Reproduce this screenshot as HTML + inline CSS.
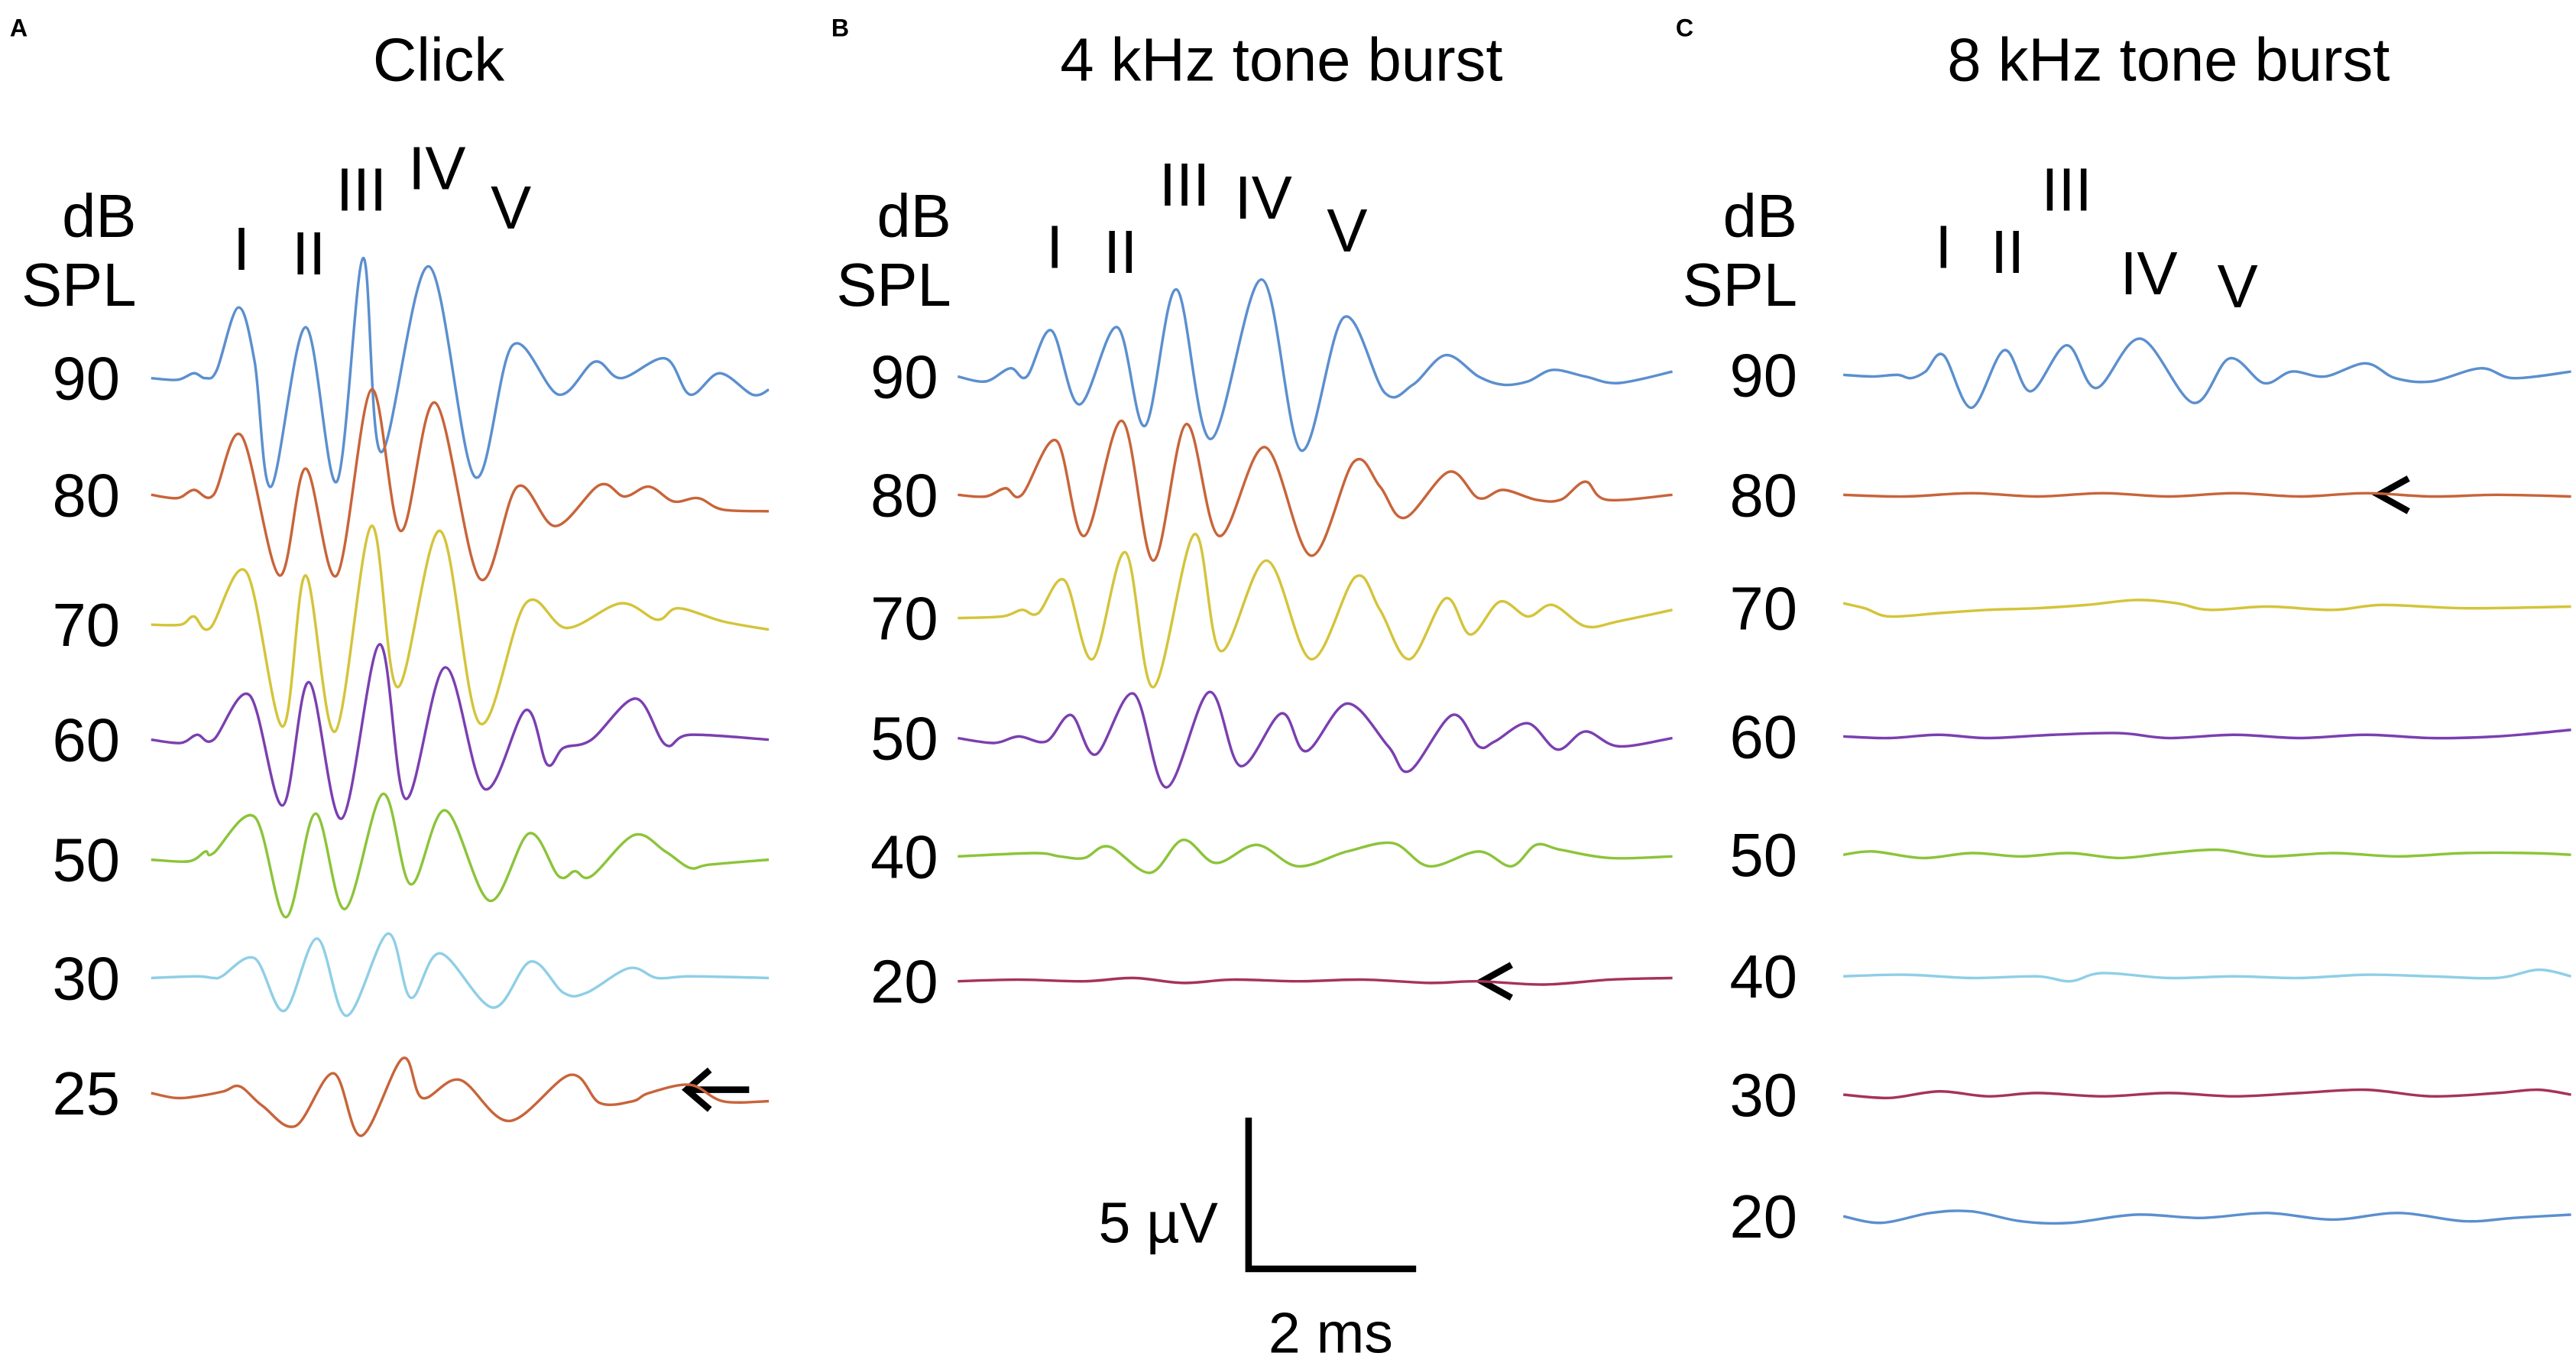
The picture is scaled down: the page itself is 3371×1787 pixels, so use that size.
<!DOCTYPE html>
<html><head><meta charset="utf-8"><style>
html,body{margin:0;padding:0;background:#fff}
svg{display:block}
text{font-family:"Liberation Sans",Arial,sans-serif;fill:#000}
</style></head><body>
<svg id="s" width="3371" height="1787" viewBox="0 0 1568 831" xmlns="http://www.w3.org/2000/svg">
<rect width="1568" height="831" fill="#fff"/>
<g font-weight="bold" font-size="15"><text x="6" y="22">A</text><text x="506" y="22">B</text><text x="1020" y="22">C</text></g>
<g font-size="37" text-anchor="middle">
<text x="267" y="49">Click</text><text x="780" y="49">4 kHz tone burst</text><text x="1320" y="49">8 kHz tone burst</text>
</g>
<g font-size="37" text-anchor="end">
<text x="83" y="144">dB</text><text x="83" y="186">SPL</text>
<text x="73" y="243">90</text><text x="73" y="314">80</text><text x="73" y="393">70</text><text x="73" y="463">60</text><text x="73" y="536">50</text><text x="73" y="608">30</text><text x="73" y="678">25</text>
<text x="579" y="144">dB</text><text x="579" y="186">SPL</text>
<text x="571" y="242">90</text><text x="571" y="314">80</text><text x="571" y="389">70</text><text x="571" y="462">50</text><text x="571" y="534">40</text><text x="571" y="610">20</text>
<text x="1094" y="144">dB</text><text x="1094" y="186">SPL</text>
<text x="1094" y="241">90</text><text x="1094" y="314">80</text><text x="1094" y="383">70</text><text x="1094" y="461">60</text><text x="1094" y="533">50</text><text x="1094" y="607">40</text><text x="1094" y="679">30</text><text x="1094" y="753">20</text>
</g>
<g font-size="37" text-anchor="middle">
<text x="147" y="164">I</text><text x="188" y="167">II</text><text x="220" y="128">III</text><text x="266" y="115">IV</text><text x="311" y="139">V</text>
<text x="642" y="163">I</text><text x="682" y="166">II</text><text x="721" y="125">III</text><text x="769" y="133">IV</text><text x="820" y="153">V</text>
<text x="1183" y="163">I</text><text x="1222" y="166">II</text><text x="1258" y="128">III</text><text x="1308" y="179">IV</text><text x="1362" y="187">V</text>
</g>
<g stroke="#000" stroke-width="4" fill="none">
<path d="M760 680V772H862"/>
<path d="M418 663H456M432 651L418 663L432 675"/>
<path d="M920 587L902 597L920 607"/>
<path d="M1466 291L1448 301L1466 311"/>
</g>
<text x="705" y="756" font-size="35" text-anchor="middle">5 µV</text>
<text x="810" y="823" font-size="35" text-anchor="middle">2 ms</text>
<g id="tr" fill="none" stroke-width="1.6"></g>
</svg>
<script>
var T=[
["#5b8fcf",230,[[92,0],[108,1],[118,-3],[125,0],[132,-5],[145,-43],[155,-10],[165,66],[186,-31],[205,63],[221,-73],[232,45],[261,-68],[289,60],[312,-20],[340,10],[362,-10],[378,0],[405,-12],[420,10],[438,-3],[458,10],[468,7]]],
["#c8643a",301,[[92,0],[108,2],[118,-3],[130,0],[147,-36],[170,49],[186,-16],[205,49],[226,-64],[244,22],[265,-56],[292,51],[315,-5],[338,19],[365,-6],[380,1],[395,-5],[410,4],[425,2],[440,9],[468,10]]],
["#d4c43a",380,[[92,0],[110,0],[118,-5],[128,2],[150,-32],[172,62],[186,-30],[204,65],[226,-60],[242,38],[268,-57],[292,60],[320,-13],[345,2],[378,-13],[400,-3],[413,-10],[440,-2],[468,3]]],
["#7b3fb0",450,[[92,0],[110,2],[120,-3],[130,0],[152,-27],[172,40],[188,-35],[208,48],[231,-58],[247,36],[271,-44],[295,30],[320,-18],[333,15],[343,5],[360,0],[387,-25],[405,3],[420,-3],[468,0]]],
["#8cc43a",523,[[92,0],[115,1],[125,-5],[130,-4],[155,-26],[174,35],[192,-28],[210,30],[233,-40],[250,15],[271,-30],[298,25],[322,-16],[340,10],[350,7],[360,10],[386,-15],[405,-5],[420,5],[432,3],[468,0]]],
["#8ecfe6",595,[[92,0],[120,-1],[130,0],[135,-1],[155,-12],[173,20],[193,-24],[211,23],[236,-27],[250,12],[268,-15],[300,18],[323,-10],[343,9],[357,9],[383,-6],[400,0],[420,-1],[468,0]]],
["#c8643a",665,[[92,0],[107,3],[120,2],[136,-1],[146,-4],[160,8],[180,20],[203,-12],[220,26],[245,-21],[257,3],[280,-8],[310,17],[347,-11],[365,6],[385,5],[395,0],[420,-5],[440,5],[468,5]]],
["#5b8fcf",229,[[583,0],[600,3],[615,-5],[625,0],[640,-28],[657,17],[680,-30],[697,30],[716,-53],[737,38],[768,-59],[792,45],[818,-36],[843,10],[860,5],[880,-13],[900,0],[915,5],[930,3],[945,-4],[965,0],[985,4],[1018,-3]]],
["#c8643a",301,[[583,0],[600,1],[612,-4],[622,0],[643,-33],[660,25],[683,-45],[702,40],[722,-43],[742,25],[770,-29],[798,37],[824,-20],[840,-5],[855,14],[882,-14],[900,2],[915,-3],[935,3],[950,3],[965,-8],[978,3],[1018,0]]],
["#d4c43a",376,[[583,0],[610,-1],[622,-5],[632,-3],[648,-23],[665,25],[685,-40],[702,42],[727,-51],[743,20],[771,-35],[798,25],[825,-25],[840,-5],[858,25],[880,-12],[895,10],[913,-10],[930,-1],[945,-8],[965,5],[985,2],[1018,-5]]],
["#7b3fb0",449,[[583,0],[605,3],[620,-1],[637,2],[652,-14],[667,10],[690,-27],[710,30],[736,-28],[755,17],[780,-15],[795,8],[820,-21],[845,5],[858,20],[884,-14],[900,5],[910,2],[930,-9],[948,7],[965,-4],[985,5],[1018,0]]],
["#8cc43a",521,[[583,0],[630,-2],[645,0],[660,1],[675,-6],[700,10],[720,-10],[740,4],[765,-7],[790,6],[820,-3],[848,-8],[870,6],[900,-3],[920,6],[935,-7],[950,-4],[980,1],[1018,0]]],
["#a5335a",597,[[583,0],[620,-1],[660,0],[690,-2],[720,1],[750,-1],[790,0],[830,-1],[870,1],[900,0],[940,2],[980,-1],[1018,-2]]],
["#5b8fcf",228,[[1122,0],[1140,1],[1155,0],[1163,2],[1172,-2],[1183,-12],[1200,20],[1220,-15],[1236,10],[1258,-18],[1276,8],[1303,-22],[1335,17],[1357,-10],[1378,5],[1395,-2],[1415,1],[1440,-7],[1458,2],[1480,4],[1510,-4],[1530,2],[1565,-2]]],
["#c8643a",301,[[1122,0],[1160,1],[1200,-1],[1240,1],[1280,-1],[1320,1],[1360,-1],[1400,1],[1440,-1],[1480,1],[1520,0],[1565,1]]],
["#d4c43a",370,[[1122,-3],[1135,0],[1150,5],[1180,3],[1210,1],[1240,0],[1270,-2],[1300,-5],[1325,-3],[1345,1],[1380,-1],[1420,1],[1450,-2],[1500,0],[1565,-1]]],
["#7b3fb0",448,[[1122,0],[1150,1],[1180,-1],[1210,1],[1250,-1],[1290,-2],[1320,1],[1360,-1],[1400,1],[1440,-1],[1480,1],[1520,0],[1565,-4]]],
["#8cc43a",520,[[1122,0],[1140,-2],[1170,2],[1200,-1],[1230,1],[1260,-1],[1290,2],[1320,-1],[1350,-3],[1380,1],[1420,-1],[1460,1],[1500,-1],[1540,-1],[1565,0]]],
["#8ecfe6",594,[[1122,0],[1160,-1],[1200,1],[1240,0],[1260,3],[1280,-2],[1320,1],[1360,0],[1400,1],[1440,-1],[1480,0],[1520,1],[1545,-4],[1565,0]]],
["#a5335a",666,[[1122,0],[1150,2],[1180,-2],[1210,1],[1240,-1],[1280,1],[1320,-1],[1360,1],[1400,-1],[1440,-3],[1480,1],[1520,-1],[1545,-3],[1565,0]]],
["#5b8fcf",740,[[1122,0],[1145,4],[1175,-2],[1200,-3],[1230,3],[1260,4],[1300,-1],[1340,1],[1380,-2],[1420,2],[1460,-2],[1500,3],[1530,1],[1565,-1]]]
];
var g=document.getElementById("tr"),h="";
T.forEach(function(t){var p=t[2].map(function(q){return [q[0],t[1]+q[1]]});
var d="M"+p[0][0]+" "+p[0][1];
for(var i=0;i<p.length-1;i++){var a=p[Math.max(0,i-1)],b=p[i],c=p[i+1],e=p[Math.min(p.length-1,i+2)];
var c1x=b[0]+(c[0]-a[0])/6,c1y=b[1]+(c[1]-a[1])/6,c2x=c[0]-(e[0]-b[0])/6,c2y=c[1]-(e[1]-b[1])/6;
d+="C"+c1x.toFixed(1)+" "+c1y.toFixed(1)+" "+c2x.toFixed(1)+" "+c2y.toFixed(1)+" "+c[0]+" "+c[1];}
h+='<path stroke="'+t[0]+'" d="'+d+'"/>';});
g.innerHTML=h;
</script>
</body></html>
